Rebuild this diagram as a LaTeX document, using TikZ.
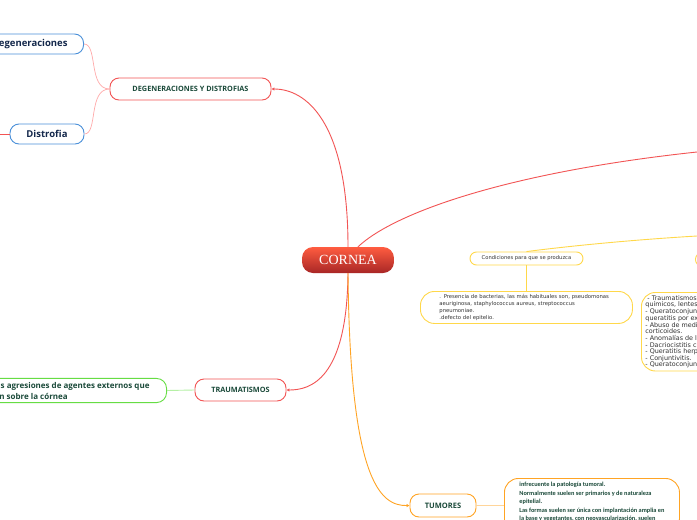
\documentclass[tikz,border=0pt]{standalone}
\usepackage{fontspec}
\setmainfont{Open Sans}
\newfontfamily\carl{Carlito}
\newfontfamily\dejav{DejaVu Sans}
\newfontfamily\cfont{Liberation Serif}
\usetikzlibrary{arrows.meta}
\definecolor{redl}{HTML}{F25454}
\definecolor{pinkl}{HTML}{FFAAAA}
\definecolor{bluel}{HTML}{4A90D9}
\definecolor{navyt}{HTML}{14284B}
\definecolor{dgreen}{HTML}{1B4A3A}
\definecolor{greenl}{HTML}{66DD44}
\definecolor{lgreen}{HTML}{B5F0A5}
\definecolor{orangel}{HTML}{FFA424}
\definecolor{lorange}{HTML}{FFD59A}
\definecolor{yell}{HTML}{FFD84A}
\definecolor{grayt}{HTML}{333333}
\tikzset{
  conn/.style={line width=0.9pt},
  tip/.style={-{Latex[length=3pt,width=3.5pt]}},
  lvlone/.style={draw=redl, fill=white, rounded corners=9pt, line width=0.9pt,
    font=\bfseries\fontsize{7.3}{9}\selectfont, text=dgreen, inner sep=0pt},
  bluebox/.style={draw=bluel, fill=white, rounded corners=9pt, line width=0.9pt,
    font=\bfseries\fontsize{9.5}{11}\selectfont, text=navyt, inner sep=0pt},
  yelbox/.style={draw=yell, fill=white, line width=0.9pt, text=grayt, inner sep=0pt},
}
\begin{document}
\begin{tikzpicture}[x=1pt,y=-1pt]
\useasboundingbox (0,0) rectangle (697,520);
\clip (0,0) rectangle (697,520);
\fill[white] (0,0) rectangle (697,520);
% nodes
\node[rounded corners=11pt, top color=red!70!orange!75!white, bottom color=red!60!black!85!white,
  minimum width=92pt, minimum height=26pt, inner sep=0pt,
  text=white, font=\cfont\fontsize{14}{15}\selectfont] (cornea) at (348,260) {CORNEA};
\node[lvlone, minimum width=161pt, minimum height=22pt] (deg) at (190.5,89) {DEGENERACIONES Y DISTROFIAS};
\node[bluebox, anchor=east, minimum height=20pt, inner xsep=16pt] (degen) at (84,44) {Degeneraciones};
\node[bluebox, minimum width=74pt, minimum height=20pt] (distro) at (47,134) {Distrofia};
\coordinate (dleft) at (0,134);
\node[lvlone, minimum width=91pt, minimum height=22pt] (traum) at (240.5,390) {TRAUMATISMOS};
\node[draw=greenl, fill=white, rounded corners=10pt, line width=0.9pt, anchor=east,
  inner xsep=17pt, inner ysep=3.5pt, align=left, text=dgreen,
  font=\fontseries{sb}\selectfont\fontsize{8}{11}\selectfont] (green) at (167,390.5)
  {Son las agresiones de agentes externos que\\actúan sobre la córnea};
\node[draw=orangel, fill=white, rounded corners=9pt, line width=0.9pt, inner sep=0pt,
  minimum width=66pt, minimum height=23pt, text=dgreen,
  font=\bfseries\fontsize{7.5}{9}\selectfont] (tum) at (443,505.5) {TUMORES};
\node[draw=orangel, fill=white, rounded corners=14pt, line width=0.9pt, anchor=north west,
  inner xsep=15pt, inner ysep=4pt, align=left, text=dgreen,
  font=\carl\bfseries\fontsize{6.3}{8.4}\selectfont] (tumtext) at (504,478)
  {infrecuente la patología tumoral.\\Normalmente suelen ser primarios y de naturaleza\\epitelial.\\Las formas suelen ser única con implantación amplia en\\la base y vegetantes, con neovascularización, suelen\\crecer lentamente.\hspace{60pt}};
\node[yelbox, rounded corners=6.5pt, minimum width=113pt, minimum height=13pt,
  font=\dejav\fontsize{5.2}{6}\selectfont] (cond) at (526.5,258.5) {Condiciones para que se produzca};
\node[yelbox, rounded corners=14pt, anchor=north west, minimum height=32pt,
  text width=180pt, inner xsep=16pt, inner ysep=3pt, align=left, font=\dejav\fontsize{5.3}{6.8}\selectfont] (pres) at (420,291)
  {\hspace*{3pt}\parbox[t]{177pt}{. Presencia de bacterias, las más habituales son, pseudomonas\\aeuriginosa, staphylococcus aureus, streptococcus\\pneumoniae.\\.defecto del epitelio.}};
\node[yelbox, rounded corners=7pt, anchor=north west, minimum width=80pt, minimum height=14pt,
  font=\dejav\fontsize{5.2}{6}\selectfont] (cond2) at (695,252) {Síntomas};
\node[yelbox, rounded corners=14pt, anchor=north west, minimum height=78pt, inner xsep=4pt, inner ysep=3pt,
  align=left, font=\dejav\fontsize{6.4}{6.4}\selectfont] (risk) at (641,292)
  {\ - Traumatismos físicos o\\químicos, lentes de contacto.\\- Queratoconjuntivitis seca,\\queratitis por exposición.\\- Abuso de medicamentos,\\corticoides.\\- Anomalías de los párpados.\\- Dacriocistitis crónica.\\- Queratitis herpética.\\- Conjuntivitis.\\- Queratoconjuntivitis.};
\coordinate (offr) at (697,152);
\coordinate (offy) at (697,236);
% connectors
\draw[conn, redl, tip] (cornea.north) .. controls (348,120) and (305,89) .. (deg.east);
\draw[conn, redl, tip] (cornea.south) .. controls (347,380) and (310,390) .. (traum.east);
\draw[conn, orangel, tip] (cornea.south) .. controls (350,480) and (380,506) .. (tum.west);
\draw[conn, redl] ([xshift=10pt]cornea.north) .. controls (395,212) and (510,172) .. (offr);
\draw[conn, yell] (cond.north) .. controls (570,246) and (630,240) .. (offy);
\draw[conn, yell] (cond.south) -- (pres.north -| cond.south);
\draw[line width=0.7pt, pinkl] (deg.west) .. controls (88,89) and (98,44) .. (degen.east);
\draw[line width=0.7pt, pinkl] (deg.west) .. controls (88,89) and (98,134) .. (distro.east);
\draw[conn, redl] (distro.west) -- (dleft);
\draw[conn, lgreen] (traum.west) -- (green.east);
\draw[conn, lorange] (tum.east) -- (tumtext.west |- tum.east);
\end{tikzpicture}
\end{document}
